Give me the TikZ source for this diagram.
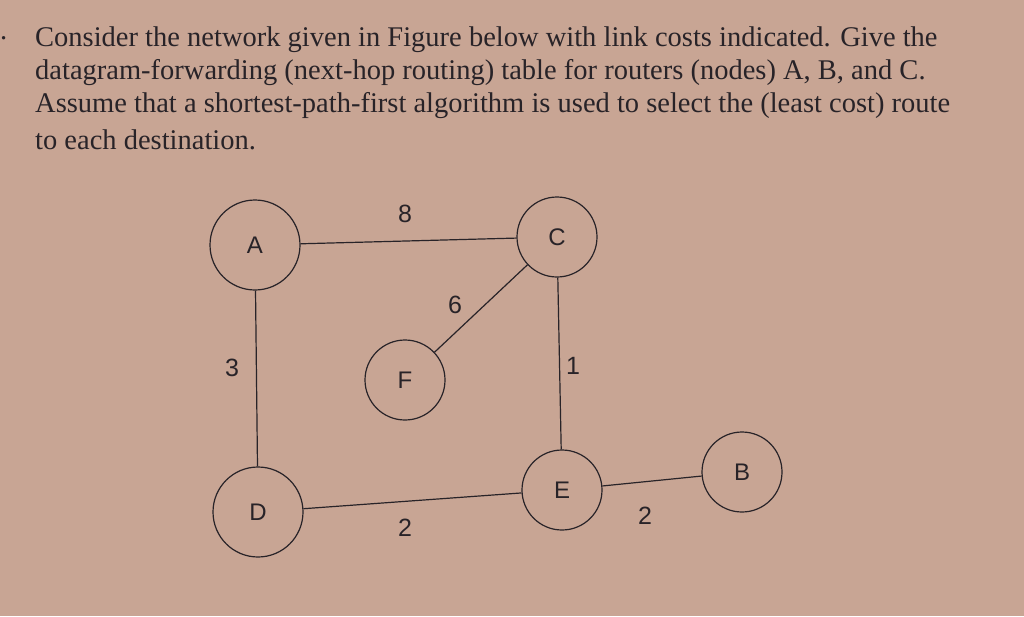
\documentclass[tikz,border=0pt]{standalone}
\usepackage{fontspec}
\setmainfont{Liberation Serif}
\newfontfamily\labfont{Liberation Sans}
\definecolor{paper}{RGB}{200,165,148}
\definecolor{ink}{RGB}{40,35,40}
\begin{document}
\begin{tikzpicture}[x=1pt,y=-1pt,
  router/.style={circle,draw=ink,line width=1.2pt,minimum size=80pt,inner sep=0pt,font=\labfont\fontsize{24}{26}\selectfont,text=ink},
  link/.style={draw=ink,line width=1.2pt},
  cost/.style={font=\labfont\fontsize{25}{27}\selectfont,text=ink},
  txt/.style={anchor=west,font=\fontsize{28.5}{30}\selectfont,text=ink,inner sep=0pt}]
\fill[paper] (0,0) rectangle (1024,616);
\useasboundingbox (0,0) rectangle (1024,616);
\node[txt] (dot) at (0,38) {.};
\node[txt] (l1) at (35,40) {Consider the network given in Figure below with link costs indicated. Give the};
\node[txt] (l2) at (35,73) {datagram-forwarding (next-hop routing) table for routers (nodes) A, B, and C.};
\node[txt] (l3) at (35,106) {Assume that a shortest-path-first algorithm is used to select the (least cost) route};
\node[txt] (l4) at (35,140) {to each destination.};
\node[router,minimum size=90pt] (A) at (255,245) {A};
\node[router] (C) at (557,237) {C};
\node[router] (F) at (405,380) {F};
\node[router,minimum size=90pt] (D) at (258,512) {D};
\node[router] (E) at (562,490) {E};
\node[router] (B) at (742,472) {B};
\draw[link] (A) -- (C);
\draw[link] (C) -- (F);
\draw[link] (A) -- (D);
\draw[link] (C) -- (E);
\draw[link] (D) -- (E);
\draw[link] (E) -- (B);
\node[cost] (c8) at (405,214) {8};
\node[cost] (c6) at (455,305) {6};
\node[cost] (c3) at (232,368) {3};
\node[cost] (c1) at (573,366) {1};
\node[cost] (c2a) at (405,528) {2};
\node[cost] (c2b) at (645,516) {2};
\end{tikzpicture}
\end{document}
